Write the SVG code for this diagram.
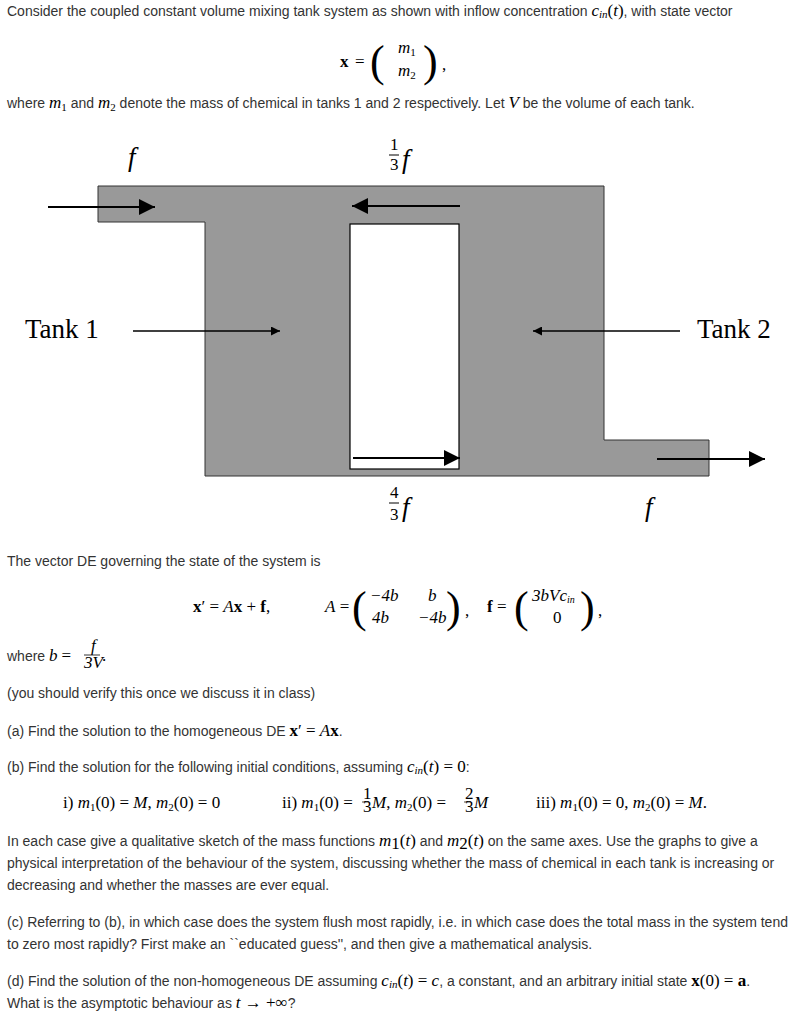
<svg xmlns="http://www.w3.org/2000/svg" width="799" height="1024" viewBox="0 0 799 1024">
<style>
.t{font-family:"Liberation Sans",Arial,sans-serif;font-size:14px;fill:#333}
.m{font-family:"Liberation Serif","Times New Roman",serif;font-size:17px;fill:#000}
.i{font-style:italic}
.b{font-weight:bold}
.s{font-size:11px}
.p{font-family:"Liberation Serif",serif;font-size:44px;fill:#000;font-weight:100}
.lb{font-family:"Liberation Serif",serif;font-size:27px;fill:#000}
.a{stroke:#000;stroke-width:2;fill:none}
.a1{stroke:#000;stroke-width:1.3;fill:none}
</style>
<defs>
<marker id="h" viewBox="0 0 10 10" refX="10" refY="5" markerWidth="18" markerHeight="9" markerUnits="userSpaceOnUse" orient="auto"><path d="M0,0L10,5L0,10z" fill="#000"/></marker>
<marker id="hb" viewBox="0 0 10 10" refX="10" refY="5" markerWidth="36" markerHeight="16" markerUnits="userSpaceOnUse" orient="auto"><path d="M0,0L10,5L0,10z" fill="#000"/></marker>
</defs>
<rect width="799" height="1024" fill="#fff"/>
<text class="t" x="7" y="16">Consider the coupled constant volume mixing tank system as shown with inflow concentration <tspan class="m i">c<tspan class="s" dy="2">in</tspan><tspan dy="-2" font-style="normal">(</tspan>t<tspan font-style="normal">)</tspan></tspan>, with state vector</text>
<text class="m b" x="340" y="67">x</text><text class="m" x="355" y="67">=</text>
<text class="p" x="370" y="76">(</text>
<text class="m i" x="398" y="53" font-size="15">m<tspan font-style="normal" font-size="11" dy="3">1</tspan></text>
<text class="m i" x="398" y="76" font-size="15">m<tspan font-style="normal" font-size="11" dy="3">2</tspan></text>
<text class="p" x="423" y="76">)</text>
<text class="m" x="442" y="70">,</text>
<text class="t" x="7" y="108">where <tspan class="m i">m<tspan font-style="normal" font-size="11" dy="3">1</tspan></tspan><tspan dy="-3"> and </tspan><tspan class="m i">m<tspan font-style="normal" font-size="11" dy="3">2</tspan></tspan><tspan dy="-3"> denote the mass of chemical in tanks 1 and 2 respectively. Let </tspan><tspan class="m i" font-size="19">V</tspan> be the volume of each tank.</text>

<g id="tank-system">
<path d="M98,186H604V440H709V476H205V222H98Z" fill="#999" stroke="#333" stroke-width="1"/>
<rect x="350" y="224" width="109" height="245" fill="#fff" stroke="#000" stroke-width="1.2"/>
</g>
<g id="labels">
<text class="lb i" x="128" y="166">f</text>
<text class="m" x="390" y="150" font-size="17">1</text><line x1="389" y1="155" x2="399" y2="155" stroke="#000"/><text class="m" x="390" y="170" font-size="17">3</text><text class="lb i" x="402" y="168">f</text>
<text class="m" x="390" y="498" font-size="17">4</text><line x1="389" y1="503" x2="399" y2="503" stroke="#000"/><text class="m" x="390" y="520" font-size="17">3</text><text class="lb i" x="402" y="516">f</text>
<text class="lb i" x="645" y="516">f</text>
<text id="tank1" class="lb" x="25" y="338">Tank 1</text>
<text id="tank2" class="lb" x="697" y="338">Tank 2</text>
</g>
<g id="connectors">
<line class="a" x1="48" y1="207" x2="155" y2="207" marker-end="url(#hb)"/>
<line class="a" x1="460" y1="206" x2="352" y2="206" marker-end="url(#hb)"/>
<line class="a" x1="353" y1="458" x2="460" y2="458" marker-end="url(#hb)"/>
<line class="a" x1="657" y1="459" x2="765" y2="459" marker-end="url(#hb)"/>
<line class="a1" x1="133" y1="331" x2="280" y2="331" marker-end="url(#h)"/>
<line class="a1" x1="680" y1="331" x2="533" y2="331" marker-end="url(#h)"/>
</g>

<text class="t" x="7" y="566">The vector DE governing the state of the system is</text>
<text class="m" x="193" y="612"><tspan class="b">x</tspan>′ = <tspan class="i">A</tspan><tspan class="b">x</tspan> + <tspan class="b">f</tspan>,</text>
<text class="m" x="325" y="612"><tspan class="i">A</tspan> =</text>
<text class="p" x="352" y="622">(</text>
<text class="m i" x="370" y="601" font-size="14">−4b</text><text class="m i" x="428" y="601" font-size="14">b</text>
<text class="m i" x="372" y="623" font-size="14">4b</text><text class="m i" x="418" y="623" font-size="14">−4b</text>
<text class="p" x="446" y="622">)</text>
<text class="m" x="465" y="616">,</text>
<text class="m" x="487" y="612"><tspan class="b">f</tspan> =</text>
<text class="p" x="514" y="622">(</text>
<text class="m i" x="532" y="601" font-size="14">3bVc<tspan font-size="10" dy="2">in</tspan></text>
<text class="m" x="553" y="623" font-size="14">0</text>
<text class="p" x="580" y="622">)</text>
<text class="m" x="598" y="616">,</text>

<text class="t" x="7" y="661">where <tspan class="m i">b</tspan> <tspan class="m">=</tspan></text>
<text class="m i" x="91" y="651" font-size="11">f</text><line x1="84" y1="655" x2="100" y2="655" stroke="#000" stroke-width="0.8"/><text class="m i" x="84" y="668" font-size="11">3V</text><text class="m" x="102" y="661">.</text>
<text class="t" x="7" y="698">(you should verify this once we discuss it in class)</text>
<text class="t" x="7" y="736">(a) Find the solution to the homogeneous DE <tspan class="m b">x</tspan><tspan class="m">′ = </tspan><tspan class="m i">A</tspan><tspan class="m b">x</tspan>.</text>
<text class="t" x="7" y="772">(b) Find the solution for the following initial conditions, assuming <tspan class="m i">c<tspan font-size="11" dy="2">in</tspan><tspan dy="-2" font-style="normal">(</tspan>t<tspan font-style="normal">) = 0</tspan></tspan>:</text>
<text class="m" x="63" y="808">i) <tspan class="i">m</tspan><tspan font-size="11" dy="3">1</tspan><tspan dy="-3">(0) = </tspan><tspan class="i">M</tspan>, <tspan class="i">m</tspan><tspan font-size="11" dy="3">2</tspan><tspan dy="-3">(0) = 0</tspan></text>
<text class="m" x="282" y="808">ii) <tspan class="i">m</tspan><tspan font-size="11" dy="3">1</tspan><tspan dy="-3">(0) =</tspan></text>
<text class="m" x="363" y="799" font-size="10">1</text><line x1="362" y1="802" x2="369" y2="802" stroke="#000" stroke-width="0.7"/><text class="m" x="363" y="812" font-size="10">3</text>
<text class="m" x="372" y="808"><tspan class="i">M</tspan>, <tspan class="i">m</tspan><tspan font-size="11" dy="3">2</tspan><tspan dy="-3">(0) =</tspan></text>
<text class="m" x="465" y="799" font-size="10">2</text><line x1="464" y1="802" x2="471" y2="802" stroke="#000" stroke-width="0.7"/><text class="m" x="465" y="812" font-size="10">3</text>
<text class="m i" x="474" y="808">M</text>
<text class="m" x="536" y="808">iii) <tspan class="i">m</tspan><tspan font-size="11" dy="3">1</tspan><tspan dy="-3">(0) = 0, </tspan><tspan class="i">m</tspan><tspan font-size="11" dy="3">2</tspan><tspan dy="-3">(0) = </tspan><tspan class="i">M</tspan>.</text>
<text class="t" x="7" y="846">In each case give a qualitative sketch of the mass functions <tspan class="m i">m</tspan><tspan class="m" font-size="11" dy="3">1</tspan><tspan class="m" dy="-3">(</tspan><tspan class="m i">t</tspan><tspan class="m">)</tspan> and <tspan class="m i">m</tspan><tspan class="m" font-size="11" dy="3">2</tspan><tspan class="m" dy="-3">(</tspan><tspan class="m i">t</tspan><tspan class="m">)</tspan> on the same axes. Use the graphs to give a</text>
<text class="t" x="7" y="868">physical interpretation of the behaviour of the system, discussing whether the mass of chemical in each tank is increasing or</text>
<text class="t" x="7" y="890">decreasing and whether the masses are ever equal.</text>
<text class="t" x="7" y="927">(c) Referring to (b), in which case does the system flush most rapidly, i.e. in which case does the total mass in the system tend</text>
<text class="t" x="7" y="949">to zero most rapidly? First make an ``educated guess'', and then give a mathematical analysis.</text>
<text class="t" x="7" y="986">(d) Find the solution of the non-homogeneous DE assuming <tspan class="m i">c<tspan font-size="11" dy="2">in</tspan><tspan dy="-2" font-style="normal">(</tspan>t<tspan font-style="normal">) = </tspan></tspan><tspan class="m i">c</tspan>, a constant, and an arbitrary initial state <tspan class="m b">x</tspan><tspan class="m">(0) = </tspan><tspan class="m b">a</tspan>.</text>
<text class="t" x="7" y="1008">What is the asymptotic behaviour as <tspan class="m i">t</tspan><tspan class="m"> → +∞</tspan>?</text>
</svg>
